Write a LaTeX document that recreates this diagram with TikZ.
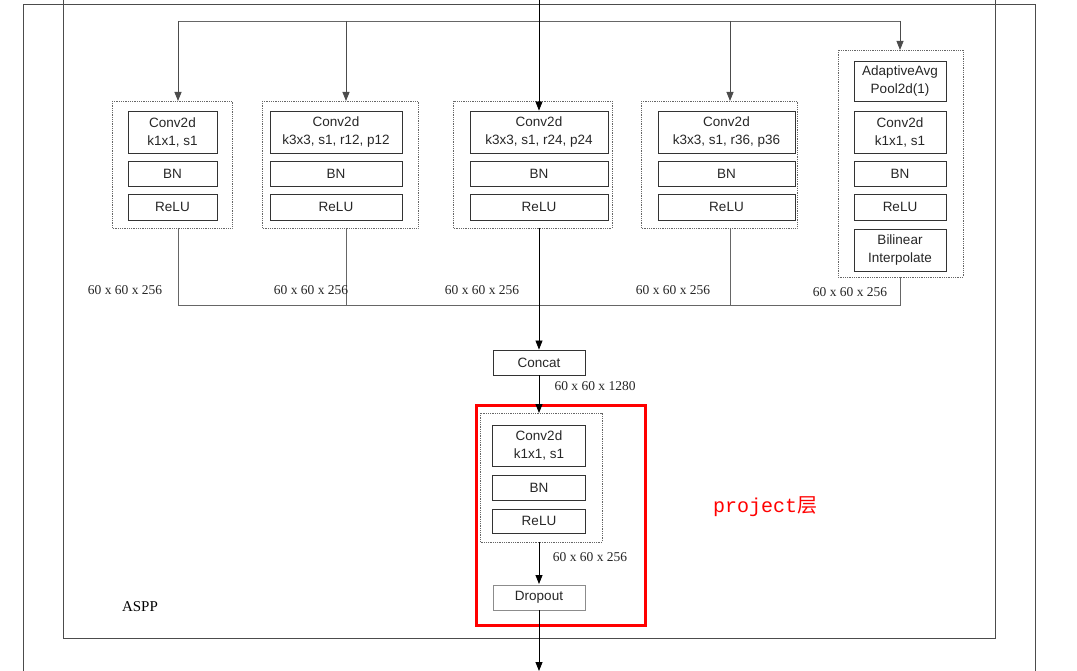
\documentclass[tikz,border=0pt]{standalone}
\usepackage{fontspec}
\setmainfont{Liberation Serif}
\setsansfont{Liberation Sans}
\newfontfamily\cjk{Noto Sans CJK SC}
\newfontfamily\monof{Liberation Mono}
\usetikzlibrary{arrows.meta}
\begin{document}
\begin{tikzpicture}[x=1pt,y=-1pt,
  lay/.style={draw=black!80,line width=0.9pt,inner sep=0pt,font=\sffamily\fontsize{13.5}{18}\selectfont,align=center,text=black!85},
  grp/.style={draw=black!60,densely dotted,line width=0.8pt},
  ln/.style={draw=black!60,line width=0.7pt},
  arr/.style={draw=black,line width=0.8pt,-{Triangle[length=9pt,width=7pt]}},
  dim/.style={font=\fontsize{13.5}{15}\selectfont,inner sep=0pt,text=black!85}]
\useasboundingbox (0,0) rectangle (1077,671);
% frames
\draw[ln,black!70] (23,671) -- (23,4) -- (1035,4) -- (1035,671);
\draw[ln,black!70] (63,0) -- (63,638) -- (995,638) -- (995,0);
% groups
\draw[grp] (112,101) rectangle (232,228);
\draw[grp] (262,101) rectangle (418,228);
\draw[grp] (453,101) rectangle (612,228);
\draw[grp] (641,101) rectangle (797,228);
\draw[grp] (838,50) rectangle (963,277);
% layer boxes
\foreach \n/\a/\b/\t in {1/128/217/{k1x1, s1},2/270/402/{k3x3, s1, r12, p12},3/470/608/{k3x3, s1, r24, p24},4/658/795/{k3x3, s1, r36, p36},5/854/946/{k1x1, s1}}{
  \node[lay,minimum width={\b-\a},minimum height=42] (c\n) at ({(\a+\b)/2},132) {Conv2d\\\t};
  \node[lay,minimum width={\b-\a},minimum height=25] (b\n) at ({(\a+\b)/2},173.5) {BN};
  \node[lay,minimum width={\b-\a},minimum height=26] (r\n) at ({(\a+\b)/2},207) {ReLU};
}
\node[lay,minimum width=92,minimum height=40] (ap) at (900,81) {AdaptiveAvg\\Pool2d(1)};
\node[lay,minimum width=92,minimum height=42] (bi) at (900,250) {Bilinear\\Interpolate};
% input distribution
\coordinate (in) at (539,0);
\coordinate (t1) at (178,21); \coordinate (t5) at (900,21);
\draw[ln] (t1) -- (t5);
\draw[arr] (in) -- (c3.north);
\draw[arr,black!70] (178,21) -- (178,101);
\draw[arr,black!70] (346,21) -- (346,101);
\draw[arr,black!70] (730,21) -- (730,101);
\draw[arr,black!70] (t5) -- (900,50);
% collection
\draw[ln] (178,228) -- (178,305) -- (900,305) -- (900,277);
\draw[ln] (346,228) -- (346,305);
\draw[ln] (730,228) -- (730,305);
\node[lay,minimum width=92,minimum height=25] (cat) at (539,362.5) {Concat};
\draw[arr] (cat.north |- 0,228) -- (cat.north);
\foreach \x/\y in {125/290,311/290,482/290,673/290,850/292}
  \node[dim] at (\x,\y) {60 x 60 x 256};
\node[dim] at (595,386) {60 x 60 x 1280};
% project
\draw[red,line width=3pt] (476,405) rectangle (645,625);
\draw[grp] (480,413) rectangle (602,542);
\node[lay,minimum width=93,minimum height=41] (pc) at (539,445.5) {Conv2d\\k1x1, s1};
\node[lay,minimum width=93,minimum height=25] (pb) at (539,487.5) {BN};
\node[lay,minimum width=93,minimum height=24] (pr) at (539,521) {ReLU};
\draw[arr] (cat.south) -- (539,413);
\draw[arr] (539,542) -- (539,584);
\node[dim] at (590,557) {60 x 60 x 256};
\node[lay,draw=black!45,minimum width=92,minimum height=25] (dp) at (539,597.5) {Dropout};
\coordinate (out) at (539,671);
\draw[arr] (dp.south) -- (out);
\node[font=\fontsize{15}{17}\selectfont,inner sep=0pt] at (140,607) {ASPP};
\node[text=red,inner sep=0pt,font=\fontsize{20}{22}\selectfont] at (765,507) {\monof project\cjk 层};
\end{tikzpicture}
\end{document}
